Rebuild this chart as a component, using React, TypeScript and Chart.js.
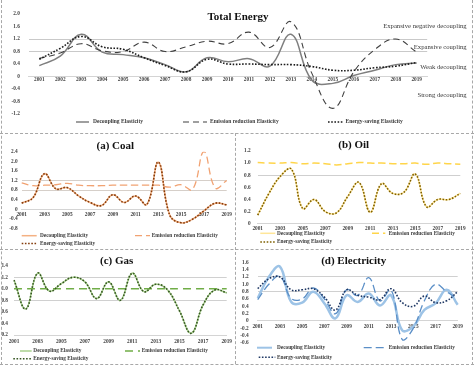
import React, { useEffect, useRef } from "react";
import { Chart, registerables } from "chart.js";

Chart.register(...registerables);

// ---------- data ----------
const YEARS = ["2001","2002","2003","2004","2005","2006","2007","2008","2009","2010","2011","2012","2013","2014","2015","2016","2017","2018","2019"];

const SERIES_NAMES = ["Decoupling Elasticity", "Emission reduction Elasticity", "Energy-saving Elasticity"];

const TOTAL_DECOUPLING = [0.35, 0.65, 1.35, 0.78, 0.7, 0.6, 0.38, 0.15, 0.6, 0.47, 0.57, 0.33, 1.35, -0.12, -0.22, 0.03, 0.2, 0.38, 0.43];
const TOTAL_EMISSION = [0.58, 0.75, 1.05, 0.82, 0.8, 1.1, 0.8, 0.95, 1.13, 1.05, 1.42, 0.93, 1.75, 0.1, -1.02, 0.15, 0.86, 1.2, 0.78];
const TOTAL_SAVING = [0.55, 0.9, 1.28, 0.95, 0.87, 0.6, 0.35, 0.15, 0.55, 0.4, 0.4, 0.38, 0.38, 0.32, 0.2, 0.2, 0.28, 0.33, 0.45];

const COAL_DECOUPLING = [0.25, 0.48, 1.48, 0.85, 0.9, 0.55, 0.28, 0.15, 0.6, 0.28, 0.55, 0.2, 1.96, -0.25, -0.57, -0.42, -0.07, 0.25, 0.18];
const COAL_EMISSION = [1.1, 0.98, 1.0, 1.02, 1.08, 1.0, 0.98, 0.98, 1.0, 1.0, 1.0, 1.0, 1.0, 0.92, 1.02, 0.82, 2.4, 0.88, 1.2];
const COAL_SAVING = [0.25, 0.48, 1.48, 0.85, 0.9, 0.55, 0.28, 0.15, 0.6, 0.28, 0.55, 0.2, 1.96, -0.25, -0.57, -0.42, -0.07, 0.25, 0.18];

const OIL_DECOUPLING = [0.14, 0.5, 0.78, 0.9, 0.25, 0.4, 0.2, 0.18, 0.45, 0.68, 0.19, 0.66, 0.5, 0.52, 0.82, 0.28, 0.4, 0.4, 0.5];
const OIL_EMISSION = [1.01, 1.0, 1.0, 1.01, 0.99, 1.0, 0.99, 0.97, 0.99, 1.01, 1.0, 1.0, 0.99, 0.99, 1.0, 0.98, 1.0, 0.99, 0.98];
const OIL_SAVING = [0.14, 0.5, 0.78, 0.9, 0.25, 0.4, 0.2, 0.18, 0.45, 0.68, 0.19, 0.66, 0.5, 0.52, 0.82, 0.28, 0.4, 0.4, 0.5];

const GAS_DECOUPLING = [1.15, 0.65, 1.27, 0.96, 1.09, 1.2, 1.12, 0.83, 1.12, 0.8, 1.27, 0.95, 1.08, 0.98, 0.62, 0.23, 0.72, 0.98, 0.93];
const GAS_EMISSION = [1, 1, 1, 1, 1, 1, 1, 1, 1, 1, 1, 1, 1, 1, 1, 1, 1, 1, 1];
const GAS_SAVING = [1.15, 0.65, 1.27, 0.96, 1.09, 1.2, 1.12, 0.83, 1.12, 0.8, 1.27, 0.95, 1.08, 0.98, 0.62, 0.23, 0.72, 0.98, 0.93];

const ELEC_DECOUPLING = [0.62, 1.2, 1.48, 0.53, 0.5, 0.8, 0.48, 0.07, 0.7, 0.52, 0.75, 0.42, 0.7, -0.25, -0.15, 0.3, 0.48, 0.85, 0.44];
const ELEC_EMISSION = [0.58, 1.0, 1.22, 0.62, 0.6, 0.9, 0.6, 0.2, 0.85, 0.7, 1.18, 0.55, 0.85, -0.5, -0.2, 0.55, 1.0, 0.8, 0.6];
const ELEC_SAVING = [0.88, 1.15, 1.2, 0.85, 0.85, 0.88, 0.65, 0.3, 0.85, 0.7, 0.65, 0.58, 0.88, 0.5, 0.4, 0.68, 0.5, 0.55, 0.8];

const THRESHOLDS = [1.2, 0.8];

const ZONE_LABELS = ["Expansive negative decoupling", "Expansive coupling", "Weak decoupling", "Strong decoupling"];

// ---------- config ----------
type Series = { label: string; data: number[]; color: string; width: number; dash: number[]; order: number };
type LegendItem = { s: number; x1: number; x2: number; tx: number; y: number };
type PanelCfg = {
  box: { x: number; y: number; w: number; h: number };
  area: { left: number; right: number; top: number; bottom: number };
  yMin: number; yMax: number; yStep: number; yPad: number;
  xAt: number; xPad: number; offset: boolean; everyOther: boolean;
  thresholds: number[]; gridColor: string;
  series: Series[];
  legend: LegendItem[];
  legendFont: number;
};

const FONT = "'Liberation Serif', 'Times New Roman', serif";
const DOT = [1.6, 1.6];

const mk = (data: number[][], colors: string[], widths: number[], dashes: number[][]): Series[] =>
  data.map((d, i) => ({ label: SERIES_NAMES[i], data: d, color: colors[i], width: widths[i], dash: dashes[i], order: 2 - i }));

const PANELS: PanelCfg[] = [
  {
    box: { x: 0, y: 0, w: 474, h: 133 },
    area: { left: 28.8, right: 427.2, top: 14, bottom: 114 },
    yMin: -1.2, yMax: 2, yStep: 0.4, yPad: 9,
    xAt: 0, xPad: 0, offset: true, everyOther: false,
    thresholds: THRESHOLDS, gridColor: "#c9c9c9",
    series: mk([TOTAL_DECOUPLING, TOTAL_EMISSION, TOTAL_SAVING], ["#7f7f7f", "#404040", "#1a1a1a"], [1.5, 1.1, 1.6], [[], [6, 4], DOT]),
    legend: [
      { s: 0, x1: 76, x2: 89, tx: 93, y: 122 },
      { s: 1, x1: 183, x2: 207, tx: 210, y: 122 },
      { s: 2, x1: 328, x2: 343, tx: 345.5, y: 122 },
    ],
    legendFont: 5.5,
  },
  {
    box: { x: 0, y: 133, w: 237, h: 116 },
    area: { left: 21.7, right: 226.7, top: 151.7, bottom: 228.3 },
    yMin: -0.8, yMax: 2.4, yStep: 0.4, yPad: 4,
    xAt: 0, xPad: 2, offset: false, everyOther: true,
    thresholds: THRESHOLDS, gridColor: "#d6cfc9",
    series: mk([COAL_DECOUPLING, COAL_EMISSION, COAL_SAVING], ["#f4b183", "#f1a272", "#843c0c"], [1.5, 1.3, 1.6], [[], [7, 4], DOT]),
    legend: [
      { s: 0, x1: 21.7, x2: 36.7, tx: 40, y: 235.7 },
      { s: 1, x1: 135, x2: 150, tx: 151.7, y: 235.7 },
      { s: 2, x1: 21.7, x2: 36.7, tx: 40, y: 243.5 },
    ],
    legendFont: 5.3,
  },
  {
    box: { x: 237, y: 133, w: 237, h: 116 },
    area: { left: 257.7, right: 460.3, top: 151, bottom: 223.7 },
    yMin: 0, yMax: 1.2, yStep: 0.2, yPad: 7,
    xAt: 0, xPad: 1.5, offset: false, everyOther: true,
    thresholds: [0.8], gridColor: "#cfcfcf",
    series: mk([OIL_DECOUPLING, OIL_EMISSION, OIL_SAVING], ["#ffe699", "#ffd54a", "#7f6000"], [1.5, 1.5, 1.6], [[], [7, 4], DOT]),
    legend: [
      { s: 0, x1: 260.3, x2: 275.3, tx: 277, y: 233.3 },
      { s: 1, x1: 372, x2: 385.3, tx: 388.7, y: 233.3 },
      { s: 2, x1: 260.3, x2: 275.3, tx: 277, y: 242 },
    ],
    legendFont: 5.3,
  },
  {
    box: { x: 0, y: 249, w: 237, h: 117 },
    area: { left: 14, right: 226.7, top: 265.7, bottom: 335 },
    yMin: 0.2, yMax: 1.4, yStep: 0.2, yPad: 6,
    xAt: 0.2, xPad: 3, offset: false, everyOther: true,
    thresholds: THRESHOLDS, gridColor: "#d0d0d0",
    series: mk([GAS_DECOUPLING, GAS_EMISSION, GAS_SAVING], ["#a9d18e", "#70ad47", "#375623"], [1.5, 1.6, 1.6], [[], [8, 5], DOT]),
    legend: [
      { s: 0, x1: 20, x2: 31.7, tx: 33.3, y: 351 },
      { s: 1, x1: 125, x2: 140, tx: 141.7, y: 351 },
      { s: 2, x1: 13.3, x2: 31.7, tx: 33.3, y: 358.7 },
    ],
    legendFont: 5.3,
  },
  {
    box: { x: 237, y: 249, w: 237, h: 117 },
    area: { left: 257.7, right: 457.7, top: 262.3, bottom: 343 },
    yMin: -0.6, yMax: 1.6, yStep: 0.2, yPad: 9,
    xAt: 0, xPad: 2, offset: false, everyOther: true,
    thresholds: THRESHOLDS, gridColor: "#d0d0d0",
    series: mk([ELEC_DECOUPLING, ELEC_EMISSION, ELEC_SAVING], ["#9dc3e6", "#5b8fc7", "#1f3864"], [2.5, 1.3, 1.6], [[], [8, 4], DOT]),
    legend: [
      { s: 0, x1: 257, x2: 272, tx: 277, y: 347.7 },
      { s: 1, x1: 363.7, x2: 387, tx: 388.7, y: 347.7 },
      { s: 2, x1: 258.7, x2: 275.3, tx: 277, y: 357.3 },
    ],
    legendFont: 5.3,
  },
];

const TITLES = [
  { text: "Total Energy", x: 238, y: 15.5, size: 11 },
  { text: "(a) Coal", x: 115.3, y: 145, size: 11 },
  { text: "(b) Oil", x: 353.7, y: 143.5, size: 11 },
  { text: "(c) Gas", x: 116.7, y: 260, size: 11 },
  { text: "(d) Electricity", x: 353.7, y: 260, size: 11 },
];

const ZONE_POS = [26, 46.5, 66.5, 95];

function Panel({ cfg }: { cfg: PanelCfg }) {
  const ref = useRef<HTMLCanvasElement>(null);
  useEffect(() => {
    const c = cfg;
    const yw = c.area.left - c.box.x;
    const padR = c.box.x + c.box.w - c.area.right;
    const padT = c.area.top - c.box.y;
    const padB = c.box.y + c.box.h - c.area.bottom;
    const legendPlugin = {
      id: "customLegend",
      afterDraw(chart: any) {
        const ctx = chart.ctx as CanvasRenderingContext2D;
        ctx.save();
        for (const item of c.legend) {
          const s = c.series[item.s];
          const y = item.y - c.box.y;
          ctx.beginPath();
          ctx.setLineDash(s.dash);
          ctx.strokeStyle = s.color;
          ctx.lineWidth = Math.min(s.width, 2);
          ctx.moveTo(item.x1 - c.box.x, y);
          ctx.lineTo(item.x2 - c.box.x, y);
          ctx.stroke();
          ctx.setLineDash([]);
          ctx.fillStyle = "#3a3a3a";
          ctx.font = `bold ${c.legendFont}px ${FONT}`;
          ctx.textBaseline = "middle";
          ctx.textAlign = "left";
          ctx.fillText(s.label, item.tx - c.box.x, y);
        }
        ctx.restore();
      },
    };
    const tickFont = { family: FONT, weight: "bold" as const, size: 5.3 };
    const chart = new Chart(ref.current as HTMLCanvasElement, {
      type: "line",
      data: {
        labels: YEARS,
        datasets: c.series.map((s) => ({
          label: s.label,
          data: s.data,
          borderColor: s.color,
          backgroundColor: s.color,
          borderWidth: s.width,
          borderDash: s.dash,
          pointRadius: 0,
          tension: 0.42,
          fill: false,
          order: s.order,
        })),
      },
      options: {
        animation: false,
        responsive: false,
        maintainAspectRatio: false,
        events: [],
        layout: { padding: { left: 0, right: padR, top: padT, bottom: padB } },
        plugins: { legend: { display: false }, title: { display: false }, tooltip: { enabled: false } },
        scales: {
          x: {
            type: "category",
            position: { y: c.xAt } as any,
            offset: c.offset,
            grid: { display: false, drawTicks: false },
            border: { display: true, color: "#d4d4d4", width: 1 },
            ticks: {
              autoSkip: false,
              maxRotation: 0,
              minRotation: 0,
              padding: c.xPad,
              color: "#404040",
              font: tickFont,
              callback: (_v: any, idx: number) => (c.everyOther && idx % 2 === 1 ? "" : YEARS[idx]),
            },
          },
          y: {
            type: "linear",
            position: "left",
            min: c.yMin,
            max: c.yMax,
            afterFit: (scale: any) => {
              scale.width = yw;
            },
            grid: {
              drawTicks: false,
              lineWidth: 1,
              color: (ctx: any) =>
                ctx.tick && c.thresholds.some((t) => Math.abs(ctx.tick.value - t) < 1e-6) ? c.gridColor : "rgba(0,0,0,0)",
            },
            border: { display: false },
            ticks: { stepSize: c.yStep, autoSkip: false, padding: c.yPad, color: "#404040", font: tickFont },
          },
        },
      },
      plugins: [legendPlugin],
    } as any);
    return () => chart.destroy();
  }, [cfg]);
  return (
    <canvas
      ref={ref}
      width={cfg.box.w}
      height={cfg.box.h}
      style={{ position: "absolute", left: cfg.box.x, top: cfg.box.y, width: cfg.box.w, height: cfg.box.h }}
    />
  );
}

const dashColor = "#a8a8a8";

export default function App() {
  const line = (style: React.CSSProperties) => <div style={{ position: "absolute", ...style }} />;
  return (
    <div style={{ position: "absolute", left: 0, top: 0, width: 474, height: 366, overflow: "hidden", background: "#fff" }}>
      {PANELS.map((p, i) => (
        <Panel key={i} cfg={p} />
      ))}
      {line({ left: 0, top: 133, width: 474, height: 0, borderTop: `1px dashed ${dashColor}` })}
      {line({ left: 0, top: 249, width: 474, height: 0, borderTop: `1px dashed ${dashColor}` })}
      {line({ left: 0, top: 364, width: 474, height: 0, borderTop: `1px dashed ${dashColor}` })}
      {line({ left: 235, top: 133, width: 0, height: 231, borderLeft: `1px dashed ${dashColor}` })}
      {line({ left: 1, top: 0, width: 0, height: 365, borderLeft: `1px dashed ${dashColor}` })}
      {line({ left: 472, top: 0, width: 0, height: 365, borderLeft: `1px dashed ${dashColor}` })}
      {TITLES.map((t, i) => (
        <div
          key={"t" + i}
          style={{
            position: "absolute",
            left: t.x,
            top: t.y,
            transform: "translate(-50%, -50%)",
            fontFamily: FONT,
            fontWeight: "bold",
            fontSize: t.size,
            lineHeight: 1,
            whiteSpace: "nowrap",
            color: "#111",
          }}
        >
          {t.text}
        </div>
      ))}
      {ZONE_LABELS.map((z, i) => (
        <div
          key={"z" + i}
          style={{
            position: "absolute",
            right: 7.3,
            top: ZONE_POS[i],
            transform: "translateY(-50%)",
            fontFamily: FONT,
            fontSize: 6.7,
            lineHeight: 1,
            whiteSpace: "nowrap",
            color: "#3a3a3a",
          }}
        >
          {z}
        </div>
      ))}
    </div>
  );
}
